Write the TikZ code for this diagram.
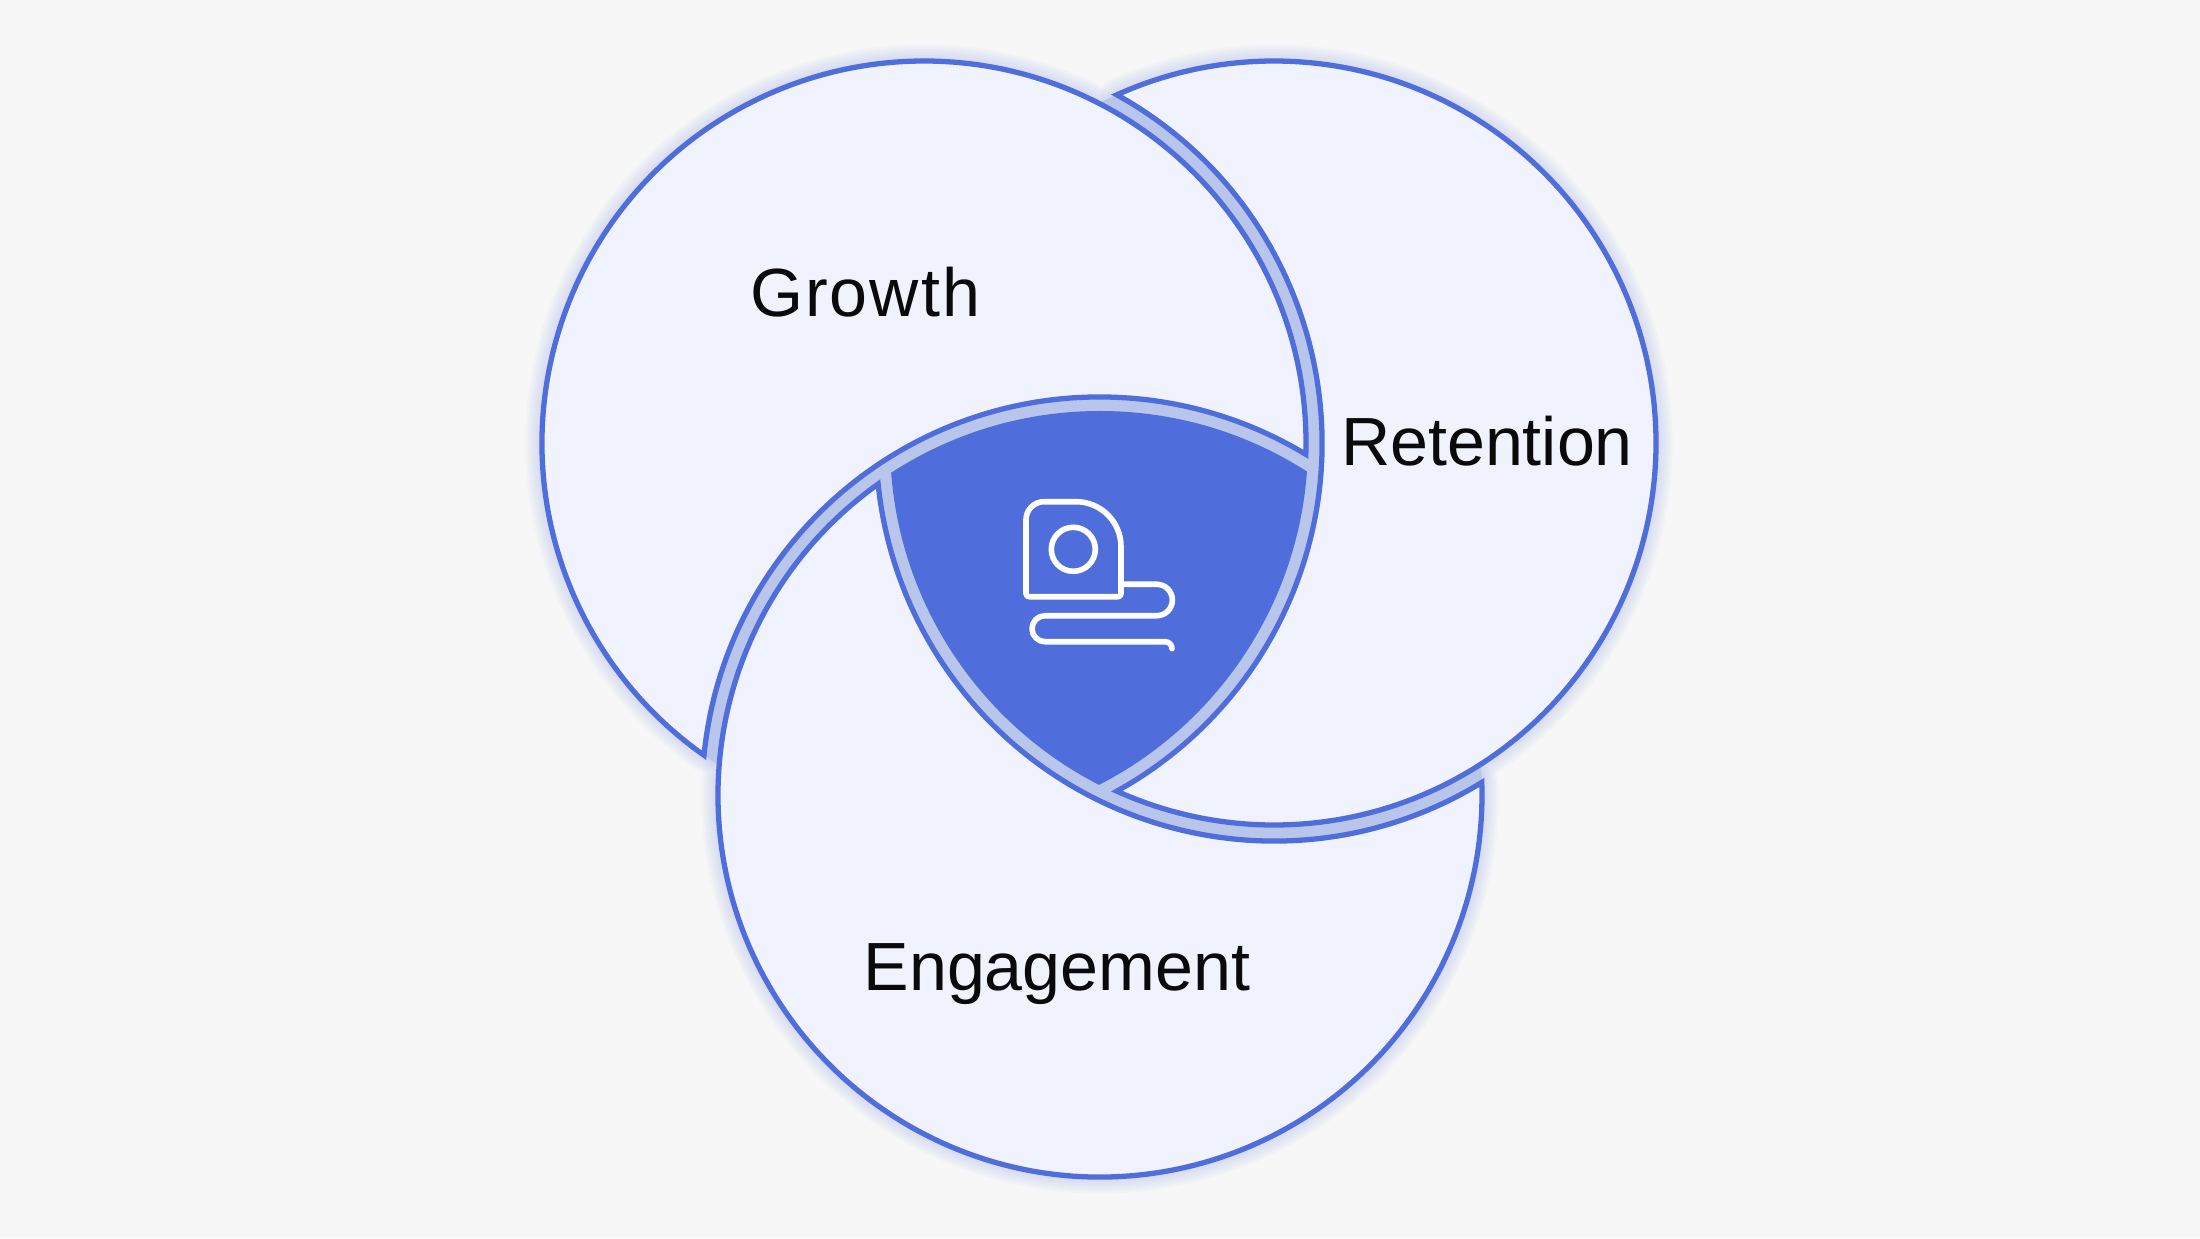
\documentclass[tikz,border=0pt]{standalone}
\usepackage{fontspec}
\setmainfont{Liberation Sans}
\definecolor{pagebg}{HTML}{F7F7F7}
\definecolor{ringline}{HTML}{4F6EDB}
\definecolor{ringfill}{HTML}{F0F3FE}
\definecolor{bandfill}{HTML}{B9C6EB}
\definecolor{labeltext}{HTML}{0A0A0A}
\def\rin{3.82}
\def\rout{3.98}
% a circle of radius \rin at #2,#3 with a circle of radius \rout at #4,#5 cut out
\newcommand{\crescent}[5]{
  \pgfmathsetmacro\dist{veclen(#4-#2,#5-#3)}
  \pgfmathsetmacro\base{atan2(#5-#3,#4-#2)}
  \pgfmathsetmacro\angin{acos((\dist*\dist+\rin*\rin-\rout*\rout)/(2*\dist*\rin))}
  \pgfmathsetmacro\angout{acos((\dist*\dist+\rout*\rout-\rin*\rin)/(2*\dist*\rout))}
  \draw[#1] ({#2+\rin*cos(\base+180)},{#3+\rin*sin(\base+180)})
    arc[start angle=\base+180, end angle=\base+360-\angin, radius=\rin]
    arc[start angle=\base+180+\angout, end angle=\base+180-\angout, radius=\rout]
    arc[start angle=\base+\angin, end angle=\base+180, radius=\rin]
    -- cycle;
}
\begin{document}
\begin{tikzpicture}
  \tikzset{
  ring/.style={draw=ringline,fill=ringfill,line width=1.5pt,miter limit=10},
  glow/.style={draw=ringline,line join=round,opacity=0.03},
  iconline/.style={draw=white,line width=1.6pt,line cap=round,line join=round},
  label/.style={text=labeltext,font=\fontsize{19.4}{22}\selectfont,anchor=base,inner sep=0pt},
  }
  \useasboundingbox (0,0) rectangle (22,12.38);
  \fill[pagebg] (0,0) rectangle (22,12.38);
  % the glow round the three parts
  \foreach \w in {0.08,0.13,...,0.34}
    \foreach \cx/\cy/\ox/\oy in {9.24/7.95/11.0/4.43, 12.74/7.95/9.24/7.95, 11.0/4.43/12.74/7.95}
      {\crescent{glow,line width=\w cm}{\cx}{\cy}{\ox}{\oy}}
  % the bands between the parts
  \foreach \cx/\cy/\ox/\oy in {9.24/7.95/11.0/4.43, 12.74/7.95/9.24/7.95, 11.0/4.43/12.74/7.95}
    {\begin{scope}
      \clip (\cx,\cy) circle (\rin);
      \fill[bandfill] (\ox,\oy) circle (\rout);
    \end{scope}}
  % the three parts
  \foreach \cx/\cy/\ox/\oy in {9.24/7.95/11.0/4.43, 12.74/7.95/9.24/7.95, 11.0/4.43/12.74/7.95}
    {\crescent{ring}{\cx}{\cy}{\ox}{\oy}}
  % the middle
  \begin{scope}
    \clip (9.24,7.95) circle (3.84);
    \clip (12.74,7.95) circle (3.84);
    \fill[ringline] (11.0,4.43) circle (3.84);
  \end{scope}
  % the tape measure
  \draw[iconline] (10.29,6.413) -- (11.18,6.413) arc[start angle=-90,end angle=0,radius=0.03]
    -- (11.21,6.913) arc[start angle=0,end angle=90,radius=0.45]
    -- (10.44,7.363) arc[start angle=90,end angle=180,radius=0.18]
    -- (10.26,6.443) arc[start angle=180,end angle=270,radius=0.03] -- cycle;
  \draw[iconline] (10.733,6.887) circle (0.22);
  \draw[iconline] (11.21,6.537) -- (11.567,6.537) arc[start angle=90,end angle=-90,radius=0.157]
    -- (10.45,6.223) arc[start angle=90,end angle=270,radius=0.13]
    -- (11.65,5.963) arc[start angle=90,end angle=0,radius=0.07];
  % the labels
  \node[label] (growth) at (8.65,9.21) {\addfontfeature{LetterSpace=3}Growth};
  \node[label] (retention) at (14.87,7.72) {Retention};
  \node[label] (engagement) at (10.57,2.48) {Engagement};
\end{tikzpicture}
\end{document}
